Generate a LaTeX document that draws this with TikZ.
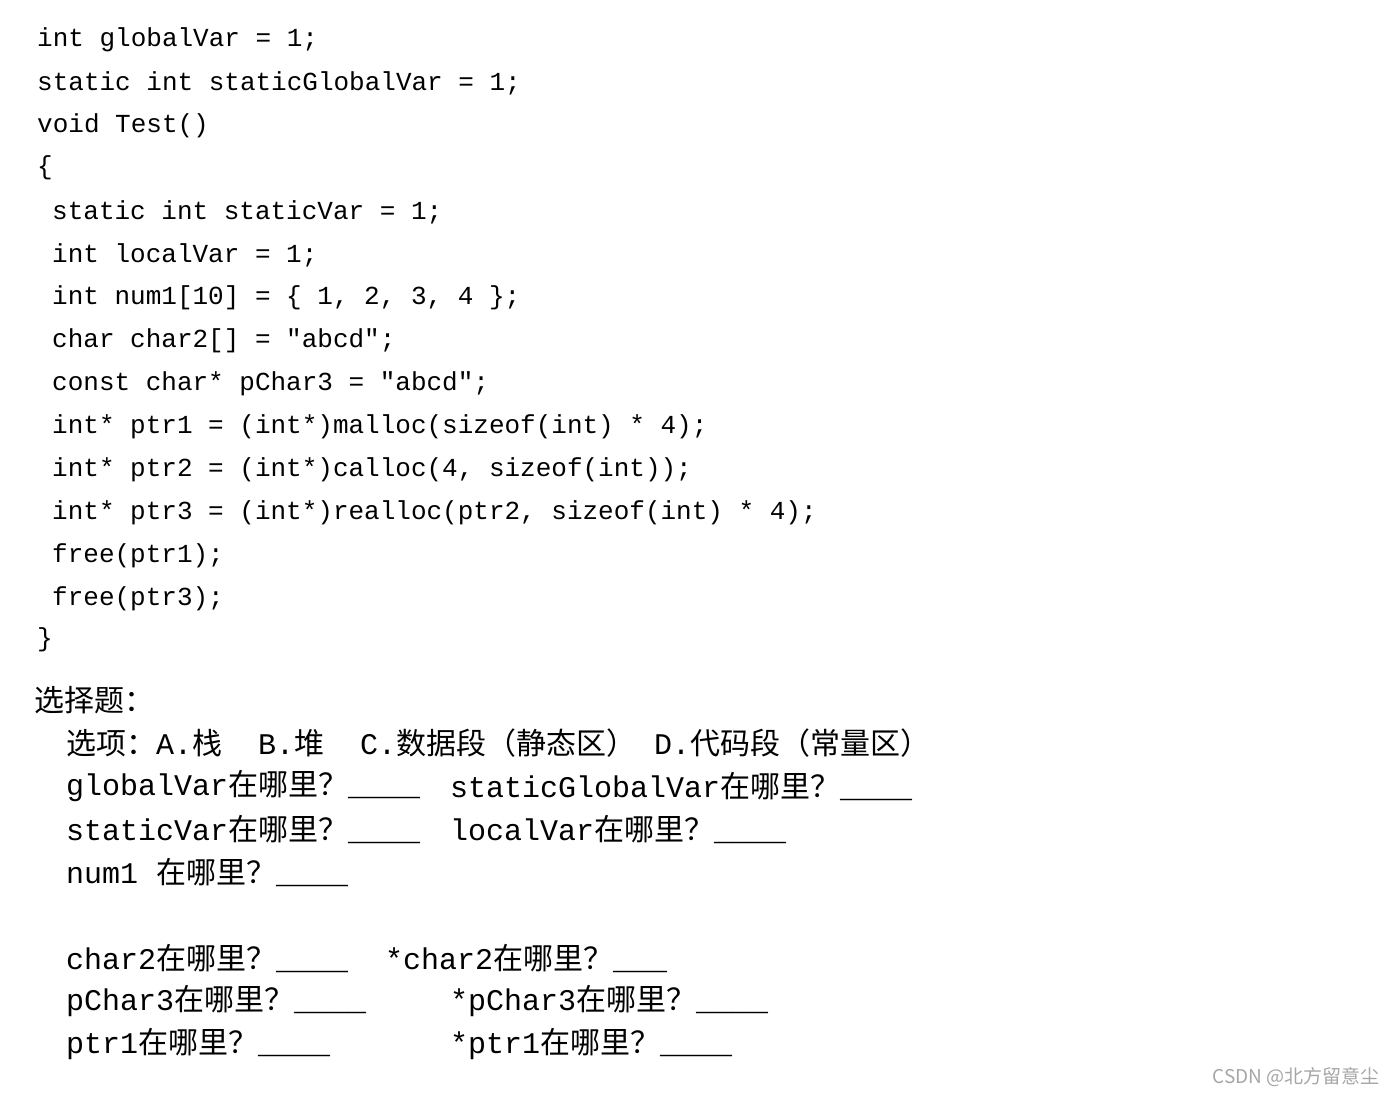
\documentclass[tikz,border=0pt]{standalone}
\usepackage{fontspec}
\setmonofont{Liberation Mono}
\newfontfamily\cjk{Noto Sans CJK SC}
\begin{document}
\begin{tikzpicture}[x=1pt,y=-1pt,
 cl/.style={anchor=west,inner sep=0,font=\fontsize{26}{26}\selectfont\ttfamily},
 ql/.style={anchor=west,inner sep=0,font=\fontsize{30}{30}\selectfont\ttfamily}]
\useasboundingbox[fill=white] (0,0) rectangle (1395,1096);
\node[cl] (l1) at (37,40) {int globalVar = 1;};
\node[cl] (l2) at (37,83) {static int staticGlobalVar = 1;};
\node[cl] (l3) at (37,126) {void Test()};
\node[cl] (l4) at (37,168) {\{};
\node[cl] (l5) at (52,212) {static int staticVar = 1;};
\node[cl] (l6) at (52,255) {int localVar = 1;};
\node[cl] (l7) at (52,298) {int num1[10] = \{ 1, 2, 3, 4 \};};
\node[cl] (l8) at (52,341) {char char2[] = "abcd";};
\node[cl] (l9) at (52,384) {const char* pChar3 = "abcd";};
\node[cl] (l10) at (52,427) {int* ptr1 = (int*)malloc(sizeof(int) * 4);};
\node[cl] (l11) at (52,470) {int* ptr2 = (int*)calloc(4, sizeof(int));};
\node[cl] (l12) at (52,513) {int* ptr3 = (int*)realloc(ptr2, sizeof(int) * 4);};
\node[cl] (l13) at (52,556) {free(ptr1);};
\node[cl] (l14) at (52,599) {free(ptr3);};
\node[cl] (l15) at (37,640) {\}};
\node[ql] (q0) at (34,700) {{\cjk 选择题：}};
\node[ql] (q1) at (66,743) {{\cjk 选项：}A.{\cjk 栈}\ \ B.{\cjk 堆}\ \ C.{\cjk 数据段（静态区）}\ D.{\cjk 代码段（常量区）}};
\node[ql] (q2) at (66,786) {globalVar{\cjk 在哪里？}\_\_\_\_};
\node[ql] (q3) at (450,786) {staticGlobalVar{\cjk 在哪里？}\_\_\_\_};
\node[ql] (q4) at (66,829) {staticVar{\cjk 在哪里？}\_\_\_\_};
\node[ql] (q5) at (450,829) {localVar{\cjk 在哪里？}\_\_\_\_};
\node[ql] (q6) at (66,872) {num1 {\cjk 在哪里？}\_\_\_\_};
\node[ql] (q7) at (66,958) {char2{\cjk 在哪里？}\_\_\_\_};
\node[ql] (q8) at (385,958) {*char2{\cjk 在哪里？}\_\_\_};
\node[ql] (q9) at (66,1001) {pChar3{\cjk 在哪里？}\_\_\_\_};
\node[ql] (q10) at (450,1001) {*pChar3{\cjk 在哪里？}\_\_\_\_};
\node[ql] (q11) at (66,1044) {ptr1{\cjk 在哪里？}\_\_\_\_};
\node[ql] (q12) at (450,1044) {*ptr1{\cjk 在哪里？}\_\_\_\_};
\node[anchor=east,inner sep=0,text=gray!70,font=\fontsize{19}{19}\selectfont\cjk] (wm) at (1380,1077) {CSDN @北方留意尘};
\end{tikzpicture}
\end{document}
